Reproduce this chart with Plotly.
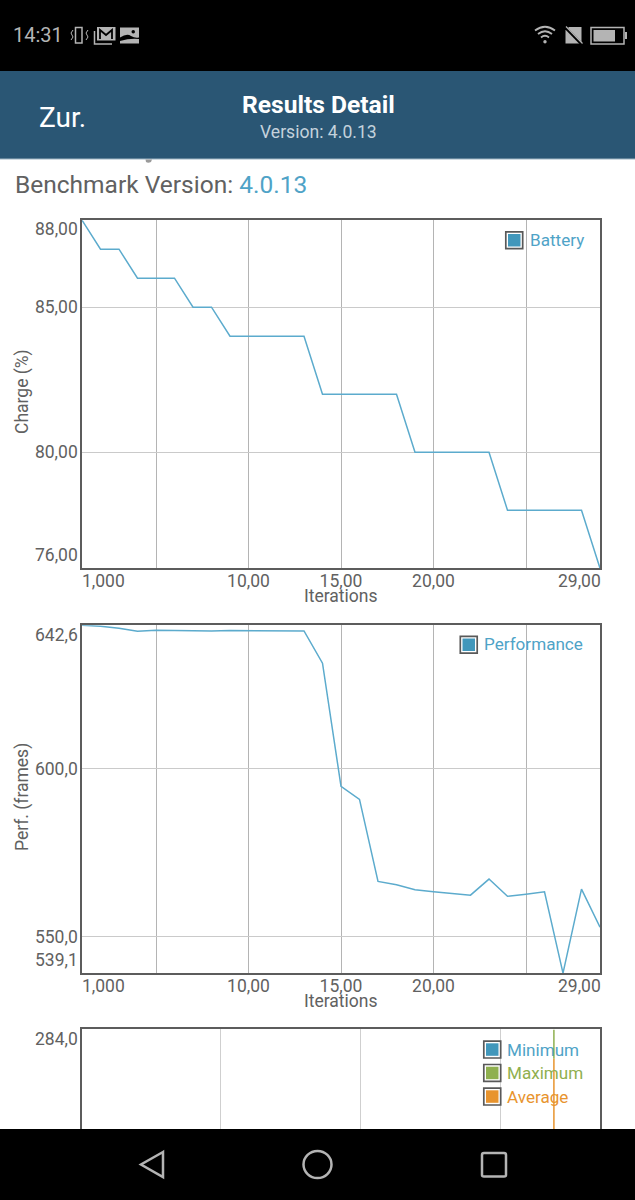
import plotly.graph_objects as go

WIDTH = 635
HEIGHT = 1200

# chart data
iterations = list(range(1, 30))
battery_charge = [88, 87, 87, 86, 86, 86, 85, 85, 84, 84, 84, 84, 84, 82, 82,
                  82, 82, 82, 80, 80, 80, 80, 80, 78, 78, 78, 78, 78, 76]
performance_frames = [642.6, 642.3, 641.7, 640.8, 641.1, 641.0, 640.9, 640.9,
                      641.0, 641.0, 640.9, 640.9, 640.9, 631.3, 594.7, 590.8,
                      566.4, 565.4, 563.9, 563.3, 562.8, 562.3, 567.1, 562.0,
                      562.6, 563.3, 539.1, 564.1, 552.8]
spread_x_maximum = [338.5, 338.5]
spread_y_maximum = [284, 260]
spread_x_average = [338.5, 338.5]
spread_y_average = [260, 144.5]

iter_grid = [5, 10, 15, 20, 25]
iter_labels = ['', '10,00', '15,00', '20,00', '']
charge_ticks = [85, 80]
charge_labels = ['85,00', '80,00']
perf_ticks = [600, 550]
perf_labels = ['600,0', '550,0']
spread_grid = [100, 200, 300]

TEXT = '#616161'
BLUE = '#4fa3c7'
LINE_BLUE = '#5cabcd'
BLUE_FILL = '#4197bb'
GREEN = '#8fb04f'
ORANGE = '#e8942e'
GREY_ICON = '#b4b4b4'
FONT = 'Roboto'
TICK_SIZE = 17.5
LEGEND_SIZE = 17.1


def px(x):
    return x / WIDTH


def py(y):
    return 1 - y / HEIGHT


def rect(x0, y0, x1, y1, fill=None, line=None, width=0, layer='above'):
    return dict(type='rect', xref='paper', yref='paper', layer=layer,
                x0=px(x0), y0=py(y0), x1=px(x1), y1=py(y1),
                fillcolor=fill or 'rgba(0,0,0,0)',
                line=dict(color=line or 'rgba(0,0,0,0)', width=width))


def circle(x0, y0, x1, y1, fill=None, line=None, width=0):
    shape = rect(x0, y0, x1, y1, fill, line, width)
    shape['type'] = 'circle'
    return shape


def path(d, fill=None, line=None, width=0):
    """Turn an svg path written in screen pixels into a paper one."""
    out = []
    is_x = True
    for token in d.split():
        if token.isalpha():
            out.append(token)
            is_x = True
        elif is_x:
            out.append(str(px(float(token))))
            is_x = False
        else:
            out.append(str(py(float(token))))
            is_x = True
    return dict(type='path', xref='paper', yref='paper', layer='above',
                path=' '.join(out), fillcolor=fill or 'rgba(0,0,0,0)',
                line=dict(color=line or 'rgba(0,0,0,0)', width=width))


def label(x, y, text, size=TICK_SIZE, color=TEXT, xanchor='left', **kwargs):
    return dict(xref='paper', yref='paper', x=px(x), y=py(y), text=text,
                showarrow=False, xanchor=xanchor, yanchor='middle',
                font=dict(family=FONT, size=size, color=color),
                borderpad=0, **kwargs)


def swatch(x, y, fill):
    return [rect(x + 0.8, y + 0.8, x + 17.7, y + 17.7, 'white', '#595959', 1.7),
            rect(x + 3, y + 3, x + 15.5, y + 15.5, fill)]


def legend_box(x0, y0, x1, y1):
    return rect(x0, y0, x1, y1, 'white', layer='between')


fig = go.Figure()

fig.add_trace(go.Scatter(x=iterations, y=battery_charge, mode='lines',
                         name='Battery', xaxis='x', yaxis='y',
                         line=dict(color=LINE_BLUE, width=1.5)))
fig.add_trace(go.Scatter(x=iterations, y=performance_frames, mode='lines',
                         name='Performance', xaxis='x2', yaxis='y2',
                         line=dict(color=LINE_BLUE, width=1.5)))
fig.add_trace(go.Scatter(x=spread_x_maximum, y=spread_y_maximum, mode='lines',
                         name='Maximum', xaxis='x3', yaxis='y3',
                         line=dict(color=GREEN, width=1.5)))
fig.add_trace(go.Scatter(x=spread_x_average, y=spread_y_average, mode='lines',
                         name='Average', xaxis='x3', yaxis='y3',
                         line=dict(color=ORANGE, width=1.5)))

axis_style = dict(showline=True, mirror=True, linecolor='#5c5c5c', linewidth=1.5,
                  gridcolor='#b4b4b4', gridwidth=1, zeroline=False, ticklen=0,
                  ticks='', tickfont=dict(family=FONT, size=TICK_SIZE, color=TEXT))
x_style = dict(axis_style, ticklabelstandoff=-4)
y_style = dict(axis_style, gridcolor='#cacaca', ticklabelstandoff=-1)

fig.update_layout(
    width=WIDTH, height=HEIGHT, showlegend=False,
    margin=dict(l=0, r=0, t=0, b=0),
    paper_bgcolor='white', plot_bgcolor='white',
    xaxis=dict(x_style, domain=[px(82), px(600)], range=[1, 29], anchor='y',
               tickvals=iter_grid, ticktext=iter_labels),
    yaxis=dict(y_style, domain=[py(568.2), py(220.2)], range=[76, 88], anchor='x',
               tickvals=charge_ticks, ticktext=charge_labels),
    xaxis2=dict(x_style, domain=[px(82), px(600)], range=[1, 29], anchor='y2',
                tickvals=iter_grid, ticktext=iter_labels),
    yaxis2=dict(y_style, domain=[py(973.2), py(625.2)], range=[539.1, 642.6], anchor='x2',
                tickvals=perf_ticks, ticktext=perf_labels),
    xaxis3=dict(x_style, domain=[px(82), px(600)], range=[0.7, 371.5], anchor='y3',
                tickvals=spread_grid, gridcolor='#cfcfcf', showticklabels=False),
    yaxis3=dict(y_style, domain=[0, py(1029.4)], range=[144.5, 284], anchor='x3',
                tickvals=[], showticklabels=False),
)

shapes = [
    legend_box(497, 224, 594, 254),
    legend_box(455, 629, 594, 659),
    legend_box(480, 1040, 592, 1111),
]
shapes += swatch(505, 231, BLUE_FILL)
shapes += swatch(459.5, 635.5, BLUE_FILL)
shapes += swatch(483, 1040.3, BLUE_FILL)
shapes += swatch(483, 1063.7, GREEN)
shapes += swatch(483, 1087.3, ORANGE)

# phone chrome around the app
shapes += [
    rect(0, 0, WIDTH, 71, '#000000'),
    rect(0, 71, WIDTH, 159, '#2a5674'),
    rect(0, 158.6, WIDTH, 159.6, '#9db3c2'),
    path('M 145.5 159.6 L 146 162 Q 148 163.6 151 162 L 152 159.6 Z', fill='#9a9a9a'),
    rect(0, 1129, WIDTH, HEIGHT, '#000000'),
    # vibrate icon
    rect(75.5, 27.5, 82, 43, None, GREY_ICON, 1.5),
    path('M 73 30 L 71 33 L 73 37 L 71 40', None, GREY_ICON, 1),
    path('M 88 30 L 86 33 L 88 37 L 86 40', None, GREY_ICON, 1),
    # mail icon
    path('M 94.5 31 L 94.5 44 L 112 44', None, GREY_ICON, 1.5),
    rect(97, 27, 115.5, 40.5, GREY_ICON),
    path('M 100 39 L 100 30 L 106 35 L 112 30 L 112 39', None, '#000000', 1.8),
    # picture icon
    rect(120, 27.5, 139, 43.5, GREY_ICON),
    path('M 120 37.5 Q 127 33 131 36 Q 135 38.5 139 37.5 L 139 39 Q 130 38 120 41 Z', fill='#000000'),
    circle(131.5, 30, 135, 33.5, '#000000'),
    # wifi icon
    path('M 535 30.5 Q 545 23 555 30.5', None, GREY_ICON, 1.8),
    path('M 538 34 Q 545 28.5 552 34', None, GREY_ICON, 1.8),
    path('M 541 37.5 Q 545 34 549 37.5', None, GREY_ICON, 1.8),
    circle(543.3, 40, 546.7, 43.4, GREY_ICON),
    # no sim icon
    path('M 569 27 L 581.5 27 L 581.5 43.5 L 565.5 43.5 L 565.5 30.5 Z', fill=GREY_ICON),
    path('M 565 27 L 582 44.5', None, '#000000', 3),
    path('M 566 26.5 L 582.5 43.5', None, GREY_ICON, 1.2),
    # battery icon
    rect(591, 27.5, 624, 44, None, GREY_ICON, 1.5),
    rect(593.5, 30, 615, 41.5, GREY_ICON),
    rect(625, 32, 627, 39, GREY_ICON),
    # nav buttons
    path('M 163 1152 L 141 1164.5 L 163 1177 Z', None, GREY_ICON, 2.5),
    circle(303.5, 1151, 331.5, 1178, None, GREY_ICON, 2.5),
    path('M 484 1153 L 504 1153 Q 506 1153 506 1155 L 506 1175 Q 506 1176.5 504 1176.5 '
         'L 484 1176.5 Q 482 1176.5 482 1175 L 482 1155 Q 482 1153 484 1153 Z',
         None, GREY_ICON, 2.5),
]

annotations = [
    label(12, 35, '14:31', 20, GREY_ICON),
    label(38, 117, 'Zur.', 28, 'white'),
    label(318, 104.5, '<b>Results Detail</b>', 24.6, 'white', 'center'),
    label(318, 132, 'Version: 4.0.13', 17.6, '#c4d2dc', 'center'),
    label(14, 184, f'Benchmark Version: <span style="color:{BLUE}">4.0.13</span>', 24.5),
    # charge chart
    label(79, 229, '88,00', xanchor='right'),
    label(79, 555, '76,00', xanchor='right'),
    label(81, 581, '1,000'),
    label(602, 581, '29,00', xanchor='right'),
    label(341, 596, 'Iterations', xanchor='center'),
    label(22, 392, 'Charge (%)', xanchor='center', textangle=-90),
    label(528.5, 240, 'Battery', LEGEND_SIZE, BLUE),
    # performance chart
    label(79, 635, '642,6', xanchor='right'),
    label(79, 960, '539,1', xanchor='right'),
    label(81, 986, '1,000'),
    label(602, 986, '29,00', xanchor='right'),
    label(341, 1001, 'Iterations', xanchor='center'),
    label(22, 797, 'Perf. (frames)', xanchor='center', textangle=-90),
    label(483, 644, 'Performance', LEGEND_SIZE, BLUE),
    # spread chart
    label(79, 1039, '284,0', xanchor='right'),
    label(506, 1049.5, 'Minimum', LEGEND_SIZE, BLUE),
    label(506, 1073, 'Maximum', LEGEND_SIZE, GREEN),
    label(506, 1096.5, 'Average', LEGEND_SIZE, ORANGE),
]

fig.update_layout(shapes=shapes, annotations=annotations)

fig.write_html("out.html", config={'displayModeBar': False},
               post_script="document.body.style.margin='0';document.body.style.overflow='hidden';")
